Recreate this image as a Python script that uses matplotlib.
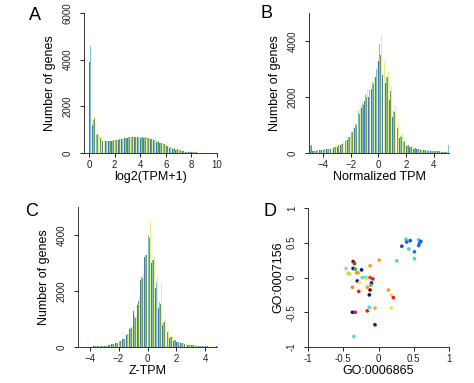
import matplotlib
matplotlib.use('Agg')
import matplotlib.pyplot as plt
import numpy as np

plt.rcParams['font.family'] = ['Liberation Sans', 'DejaVu Sans']

series_colors = ['#4478c4', '#78c2da', '#74a040', '#eef07a']

# panel A: log2(TPM+1), bins of 0.25 starting at 0
a_bins = [i * 0.25 for i in range(40)]
a_blue = [3900, 1200, 700, 600, 520, 500, 500, 520, 540, 570, 600, 630, 650, 660, 670, 670, 660, 650, 630, 590,
          540, 480, 420, 360, 290, 230, 180, 140, 105, 78, 58, 42, 30, 21, 14, 9, 6, 4, 3, 2]
a_teal = [4600, 1400, 760, 620, 540, 510, 510, 530, 560, 590, 620, 650, 670, 680, 690, 690, 680, 660, 640, 600,
          550, 490, 430, 370, 300, 240, 190, 150, 110, 82, 60, 44, 31, 22, 15, 10, 7, 5, 3, 2]
a_green = [5300, 1500, 800, 640, 550, 520, 520, 540, 570, 600, 630, 660, 680, 690, 690, 690, 680, 670, 650, 610,
           560, 500, 440, 380, 310, 250, 195, 155, 115, 85, 62, 45, 33, 23, 16, 11, 7, 5, 3, 2]
a_yellow = [5500, 1600, 820, 650, 560, 530, 530, 550, 580, 610, 640, 670, 690, 700, 700, 700, 690, 680, 660, 620,
            570, 510, 450, 390, 320, 260, 200, 160, 118, 88, 64, 47, 34, 24, 17, 11, 8, 5, 3, 2]

# panel B: normalized TPM, bins of 0.25 from -5 to 5
b_bins = [-5 + i * 0.25 for i in range(41)]
b_blue = [200, 60, 70, 90, 110, 130, 150, 190, 230, 280, 360, 480, 650, 900, 1300, 1600, 1850, 2000, 2300, 2700,
          3300, 2800, 2500, 1900, 1300, 800, 520, 360, 260, 200, 160, 130, 105, 90, 80, 70, 62, 55, 50, 45, 420]
b_teal = [250, 80, 90, 110, 130, 150, 180, 220, 270, 330, 420, 560, 760, 1050, 1500, 1800, 2100, 2250, 2550, 3000,
          3900, 3100, 2700, 2200, 1500, 950, 600, 420, 300, 230, 180, 150, 120, 100, 90, 80, 70, 60, 55, 50, 300]
b_green = [280, 80, 90, 110, 130, 150, 180, 220, 270, 330, 420, 560, 740, 1000, 1400, 1700, 2000, 2200, 2450, 2900,
           3500, 3000, 2700, 2200, 1450, 900, 580, 400, 290, 220, 175, 145, 115, 100, 88, 78, 68, 58, 52, 48, 250]
b_yellow = [380, 100, 110, 130, 150, 170, 200, 250, 310, 380, 480, 650, 900, 1250, 1700, 2000, 2300, 2400, 2700, 3200,
            4200, 3300, 2900, 2400, 1700, 1100, 700, 480, 340, 260, 200, 165, 135, 115, 100, 90, 80, 70, 62, 58, 200]

# panel C: Z-TPM, bins of 0.25 from -4.75 to 4.75
c_bins = [-4.75 + i * 0.25 for i in range(39)]
c_blue = [5, 7, 9, 13, 18, 25, 34, 46, 64, 92, 130, 185, 280, 420, 650, 1300, 1500, 2400, 3200, 3800,
          3000, 2100, 1400, 800, 500, 320, 230, 170, 130, 100, 78, 60, 46, 36, 27, 20, 15, 11, 30]
c_teal = [5, 8, 10, 15, 20, 28, 38, 50, 70, 100, 140, 200, 300, 450, 700, 1100, 1700, 2500, 3300, 4000,
          3100, 2300, 1600, 900, 550, 350, 250, 180, 140, 110, 85, 65, 50, 40, 30, 22, 16, 12, 40]
c_green = [5, 8, 10, 15, 20, 28, 38, 50, 70, 100, 140, 200, 290, 440, 680, 1050, 1650, 2450, 3300, 3900,
           3100, 2250, 1550, 880, 540, 340, 245, 178, 138, 108, 84, 64, 49, 39, 29, 21, 16, 12, 35]
c_yellow = [6, 9, 11, 16, 22, 30, 40, 54, 75, 108, 150, 215, 320, 480, 740, 1150, 1800, 2650, 3500, 4500,
            3200, 2500, 2300, 1000, 600, 380, 270, 195, 150, 118, 92, 70, 54, 43, 32, 24, 18, 13, 45]

# panel D: GO term scores of samples
d_x = [0.39, 0.45, 0.40, 0.57, 0.60, 0.58, 0.33, 0.57, 0.43, 0.51, 0.51, 0.26,
       0.01, -0.36, -0.34, -0.12, -0.46, -0.36, -0.33, -0.24, -0.43, -0.41, -0.31, -0.29,
       -0.23, -0.18, -0.12, -0.18, -0.08, -0.30, -0.27, -0.10, -0.11, -0.16, -0.37, -0.28,
       -0.12, 0.14, 0.18, 0.21, -0.13, -0.13, -0.16, -0.05, 0.18, -0.37, -0.33, -0.05, -0.35]
d_y = [0.55, 0.53, 0.51, 0.54, 0.52, 0.49, 0.45, 0.46, 0.41, 0.37, 0.27, 0.24,
       0.25, 0.23, 0.20, 0.17, 0.13, 0.13, 0.12, 0.11, 0.06, 0.05, 0.07, 0.07,
       0.00, 0.00, 0.00, -0.02, -0.02, -0.05, -0.07, -0.08, -0.11, -0.14, -0.14, -0.20,
       -0.18, -0.18, -0.25, -0.29, -0.25, -0.43, -0.48, -0.44, -0.44, -0.50, -0.50, -0.68, -0.85]
d_colors = ['#40ccee', '#1a4fd6', '#2060e0', '#40c8f0', '#1a5ae0', '#2a70e8', '#1848d0', '#2068e0', '#40d0e8',
            '#2a6ee8', '#40d8e8', '#40d8e0',
            '#ff9a20', '#a00010', '#606010', '#ff9a20', '#90e090', '#10108a', '#40b050', '#101090',
            '#b0e060', '#c0e040', '#ff8a20', '#ff9a20',
            '#40e0e0', '#40d0f0', '#e04020', '#ffe030', '#e02020', '#10108a', '#ffe030', '#10108a',
            '#50c050', '#ff9a20', '#ff8020', '#e02020',
            '#900010', '#ff9a20', '#ffe030', '#e02020', '#10108a', '#40e0d0', '#e02020', '#ffa030',
            '#ffe030', '#10108a', '#e02020', '#800010', '#40e0e0']


def r_style(ax):
    ax.spines['top'].set_visible(False)
    ax.spines['right'].set_visible(False)
    ax.tick_params(direction='out', length=3, width=0.7, labelsize=7, colors='#222222')
    ax.tick_params(axis='y', pad=5)
    ax.tick_params(axis='x', pad=2)
    for lab in ax.get_yticklabels():
        lab.set_rotation(90)
        lab.set_va('center')
    for s in ['left', 'bottom']:
        ax.spines[s].set_linewidth(0.7)
        ax.spines[s].set_color('#333333')


def hist_panel(ax, bins, groups, width):
    bw = width / len(groups)
    for k, vals in enumerate(groups):
        ax.bar([b + k * bw for b in bins], vals, width=bw * 0.95, align='edge',
               color=series_colors[k], linewidth=0)


fig = plt.figure(figsize=(4.74, 3.83), dpi=100)
W, H = 474.0, 383.0


def add_axes(l, r, t, b):
    return fig.add_axes([l / W, 1 - b / H, (r - l) / W, (b - t) / H])


axA = add_axes(84, 217, 13, 153)
hist_panel(axA, a_bins, [a_blue, a_teal, a_green, a_yellow], 0.25)
axA.set_xlim(-0.4, 10)
axA.set_ylim(0, 6000)
axA.set_xticks([0, 2, 4, 6, 8, 10])
axA.set_yticks([0, 2000, 4000, 6000])
axA.set_xlabel('log2(TPM+1)', fontsize=9, labelpad=1)
axA.set_ylabel('Number of genes', fontsize=9, labelpad=5)
r_style(axA)

axB = add_axes(309, 449, 13, 153)
hist_panel(axB, b_bins, [b_blue, b_teal, b_green, b_yellow], 0.25)
axB.set_xlim(-5, 5.1)
axB.set_ylim(0, 5000)
axB.set_xticks([-4, -2, 0, 2, 4])
axB.set_yticks([0, 2000, 4000])
axB.set_xlabel('Normalized TPM', fontsize=9, labelpad=1)
axB.set_ylabel('Number of genes', fontsize=9, labelpad=5)
r_style(axB)

axC = add_axes(78, 217, 207, 347)
hist_panel(axC, c_bins, [c_blue, c_teal, c_green, c_yellow], 0.25)
axC.set_xlim(-4.8, 4.8)
axC.set_ylim(0, 5000)
axC.set_xticks([-4, -2, 0, 2, 4])
axC.set_yticks([0, 2000, 4000])
axC.set_xlabel('Z-TPM', fontsize=9, labelpad=1)
axC.set_ylabel('Number of genes', fontsize=9, labelpad=5)
r_style(axC)

axD = add_axes(308, 449, 208, 347)
axD.scatter(d_x, d_y, s=7, c=d_colors, linewidths=0)
axD.set_xlim(-1, 1)
axD.set_ylim(-1, 1)
axD.set_xticks([-1, -0.5, 0, 0.5, 1])
axD.set_xticklabels(['-1', '-0.5', '0', '0.5', '1'])
axD.set_yticks([-1, -0.5, 0, 0.5, 1])
axD.set_yticklabels(['-1', '-0.5', '0', '0.5', '1'])
axD.set_xlabel('GO:0006865', fontsize=9, labelpad=1)
axD.set_ylabel('GO:0007156', fontsize=9, labelpad=2)
r_style(axD)

for letter, x, y in [('A', 35, 15), ('B', 267, 14), ('C', 32, 212), ('D', 270, 212)]:
    fig.text(x / W, 1 - y / H, letter, fontsize=13, ha='center', va='center')

fig.savefig('out.png', dpi=100)
